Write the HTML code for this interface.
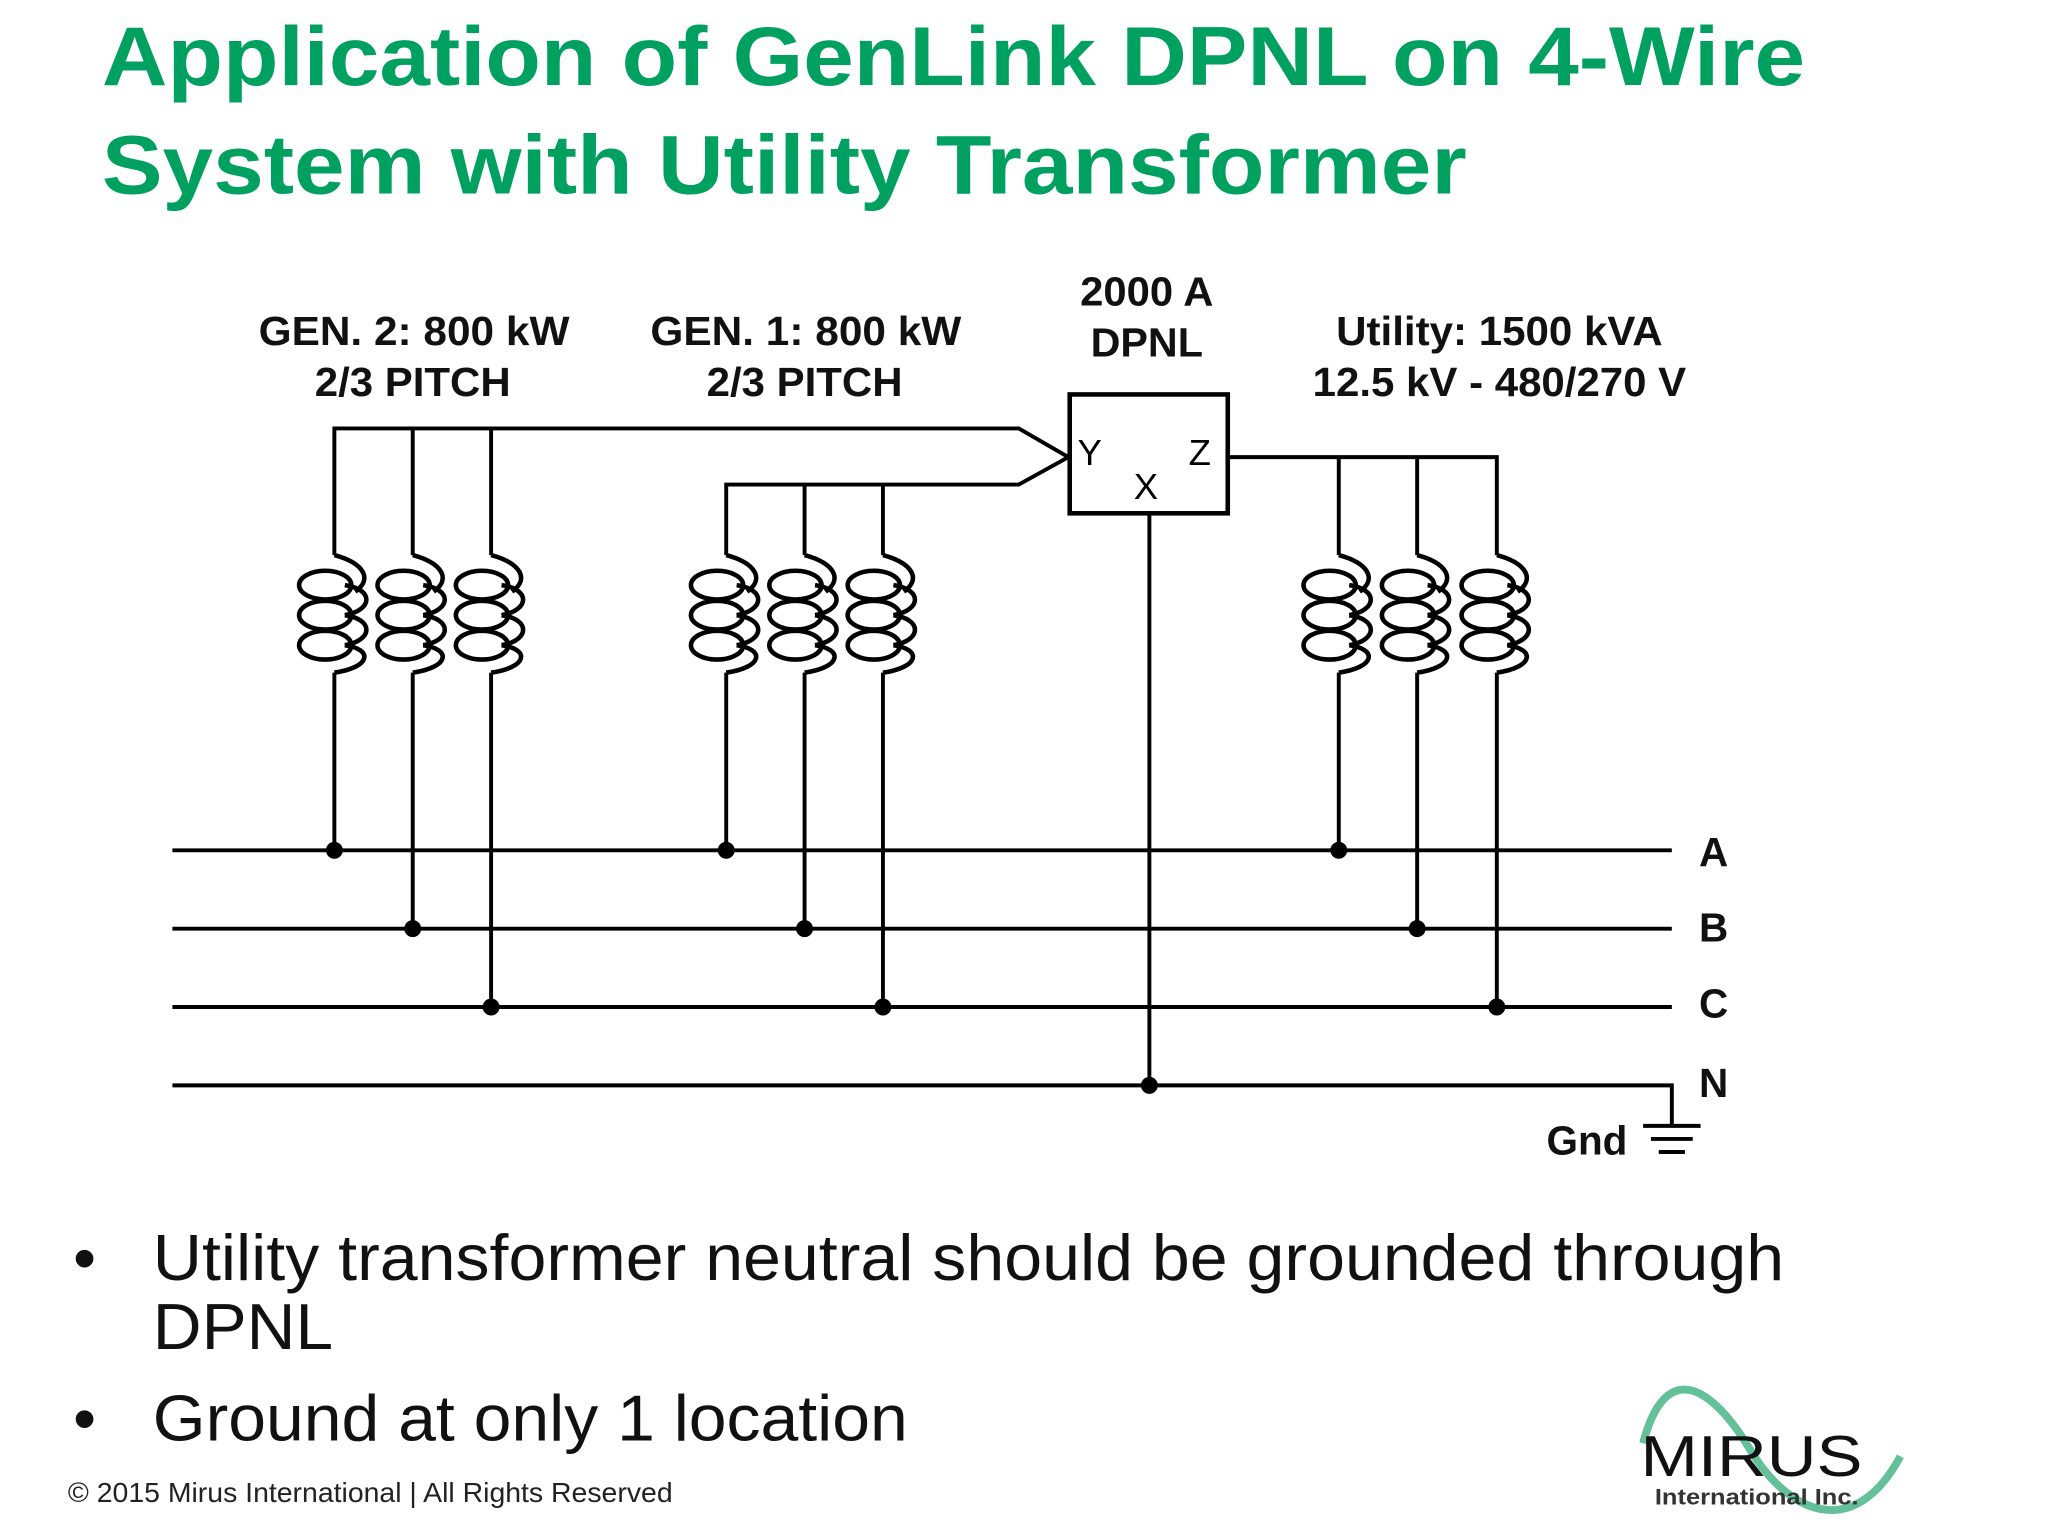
<!DOCTYPE html>
<html><head><meta charset="utf-8"><style>
html,body{margin:0;padding:0;background:#fff;}
svg{display:block;}
</style></head><body>
<svg width="2048" height="1536" viewBox="0 0 1568 1176" xmlns="http://www.w3.org/2000/svg">
<defs>
<g id="coil" fill="none" stroke="#000" stroke-width="3.5">
<path d="M0,0 C22,6 30,18 16,28"/>
<ellipse cx="-7" cy="23" rx="20" ry="11"/>
<ellipse cx="-7" cy="46" rx="20" ry="11"/>
<ellipse cx="-7" cy="69" rx="20" ry="11"/>
<path d="M8,23 C30,26 30,42 8,46"/>
<path d="M8,46 C30,49 30,65 8,69"/>
<path d="M8,69 C30,72 28,86 0,90"/>
</g>
</defs>
<rect width="1568" height="1176" fill="#fff"/>
<g font-family="Liberation Sans, Arial, sans-serif" font-weight="bold" fill="#00a060" font-size="64">
<text x="78" y="65" textLength="1304" lengthAdjust="spacingAndGlyphs">Application of GenLink DPNL on 4-Wire</text>
<text x="78" y="148" textLength="1045" lengthAdjust="spacingAndGlyphs">System with Utility Transformer</text>
</g>
<g font-family="Liberation Sans, Arial, sans-serif" font-weight="bold" fill="#111" font-size="31" text-anchor="middle">
<text x="317" y="264" textLength="238" lengthAdjust="spacingAndGlyphs">GEN. 2: 800 kW</text>
<text x="316" y="303" textLength="150" lengthAdjust="spacingAndGlyphs">2/3 PITCH</text>
<text x="617" y="264" textLength="238" lengthAdjust="spacingAndGlyphs">GEN. 1: 800 kW</text>
<text x="616" y="303" textLength="150" lengthAdjust="spacingAndGlyphs">2/3 PITCH</text>
<text x="878" y="234" textLength="102" lengthAdjust="spacingAndGlyphs">2000 A</text>
<text x="878" y="273" textLength="86" lengthAdjust="spacingAndGlyphs">DPNL</text>
<text x="1148" y="264" textLength="250" lengthAdjust="spacingAndGlyphs">Utility: 1500 kVA</text>
<text x="1148" y="303" textLength="286" lengthAdjust="spacingAndGlyphs">12.5 kV - 480/270 V</text>
<text x="1312" y="663">A</text>
<text x="1312" y="721">B</text>
<text x="1312" y="779">C</text>
<text x="1312" y="840">N</text>
<text x="1215" y="884">Gnd</text>
</g>
<g stroke="#000" stroke-width="3" fill="none">
<line x1="132" y1="651" x2="1280" y2="651"/>
<line x1="132" y1="711" x2="1280" y2="711"/>
<line x1="132" y1="771" x2="1280" y2="771"/>
<polyline points="132,831 1280,831 1280,862"/>
<line x1="1258" y1="862" x2="1302" y2="862"/>
<line x1="1264" y1="872" x2="1296" y2="872"/>
<line x1="1270" y1="882" x2="1290" y2="882"/>
<polyline points="256,425 256,328 780,328 818,350 780,371 556,371 556,425"/>
<line x1="316" y1="328" x2="316" y2="425"/>
<line x1="376" y1="328" x2="376" y2="425"/>
<line x1="616" y1="371" x2="616" y2="425"/>
<line x1="676" y1="371" x2="676" y2="425"/>
<polyline points="940,350 1146,350 1146,425"/>
<line x1="1025" y1="350" x2="1025" y2="425"/>
<line x1="1085" y1="350" x2="1085" y2="425"/>
<rect x="819" y="302" width="121" height="91" stroke-width="3.5"/>
<line x1="880" y1="393" x2="880" y2="831"/>
<line x1="256" y1="515" x2="256" y2="651"/>
<line x1="316" y1="515" x2="316" y2="711"/>
<line x1="376" y1="515" x2="376" y2="771"/>
<line x1="556" y1="515" x2="556" y2="651"/>
<line x1="616" y1="515" x2="616" y2="711"/>
<line x1="676" y1="515" x2="676" y2="771"/>
<line x1="1025" y1="515" x2="1025" y2="651"/>
<line x1="1085" y1="515" x2="1085" y2="711"/>
<line x1="1146" y1="515" x2="1146" y2="771"/>
</g>
<use href="#coil" x="256" y="425"/><use href="#coil" x="316" y="425"/><use href="#coil" x="376" y="425"/>
<use href="#coil" x="556" y="425"/><use href="#coil" x="616" y="425"/><use href="#coil" x="676" y="425"/>
<use href="#coil" x="1025" y="425"/><use href="#coil" x="1085" y="425"/><use href="#coil" x="1146" y="425"/>
<g fill="#000">
<circle cx="256" cy="651" r="6.5"/><circle cx="316" cy="711" r="6.5"/><circle cx="376" cy="771" r="6.5"/>
<circle cx="556" cy="651" r="6.5"/><circle cx="616" cy="711" r="6.5"/><circle cx="676" cy="771" r="6.5"/>
<circle cx="1025" cy="651" r="6.5"/><circle cx="1085" cy="711" r="6.5"/><circle cx="1146" cy="771" r="6.5"/>
<circle cx="880" cy="831" r="6.5"/>
</g>
<g font-family="Liberation Sans, Arial, sans-serif" fill="#000" font-size="28">
<text x="825" y="356">Y</text>
<text x="910" y="356">Z</text>
<text x="868" y="382">X</text>
</g>
<g font-family="Liberation Sans, Arial, sans-serif" fill="#111" font-size="50">
<text x="56" y="980">•</text>
<text x="117" y="980" textLength="1249" lengthAdjust="spacingAndGlyphs">Utility transformer neutral should be grounded through</text>
<text x="117" y="1033" textLength="138" lengthAdjust="spacingAndGlyphs">DPNL</text>
<text x="56" y="1103">•</text>
<text x="117" y="1103" textLength="578" lengthAdjust="spacingAndGlyphs">Ground at only 1 location</text>
</g>
<text x="52" y="1150" font-family="Liberation Sans, Arial, sans-serif" font-size="21" fill="#222" textLength="463" lengthAdjust="spacingAndGlyphs">© 2015 Mirus International | All Rights Reserved</text>
<g>
<path d="M1258,1105 C1275,1040 1310,1060 1340,1110 S1420,1180 1455,1115" fill="none" stroke="#3cb080" stroke-width="6" opacity="0.8"/>
<text x="1256" y="1130" font-family="Liberation Sans, Arial, sans-serif" font-size="44" fill="#111" textLength="170" lengthAdjust="spacingAndGlyphs">MIRUS</text>
<text x="1267" y="1152" font-family="Liberation Sans, Arial, sans-serif" font-weight="bold" font-size="17" fill="#333" textLength="156" lengthAdjust="spacingAndGlyphs">International Inc.</text>
</g>
</svg>
</body></html>
